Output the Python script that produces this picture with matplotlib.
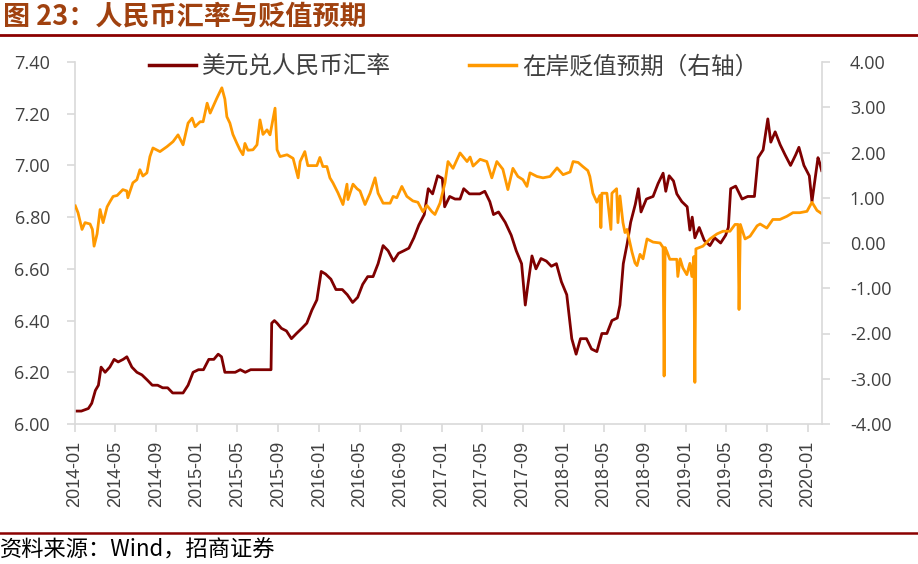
import matplotlib
matplotlib.use("Agg")
import matplotlib.pyplot as plt
import pandas as pd
from matplotlib.lines import Line2D

# ---------------- data ----------------
usdcny_dates = [
    "2014-01-02","2014-01-20","2014-02-10","2014-02-20","2014-03-03","2014-03-12","2014-03-20","2014-04-01",
    "2014-04-15","2014-04-28","2014-05-10","2014-05-25","2014-06-05","2014-06-20","2014-07-05","2014-07-20",
    "2014-08-05","2014-08-20","2014-09-05","2014-09-20","2014-10-05","2014-10-20","2014-11-05","2014-11-20",
    "2014-12-05","2014-12-20","2015-01-05","2015-01-20","2015-02-05","2015-02-20","2015-03-05","2015-03-15",
    "2015-03-25","2015-04-10","2015-04-25","2015-05-10","2015-05-25","2015-06-10","2015-06-25","2015-07-10",
    "2015-07-25","2015-08-10","2015-08-12","2015-08-20","2015-08-28","2015-09-10","2015-09-25","2015-10-10",
    "2015-10-25","2015-11-10","2015-11-25","2015-12-10","2015-12-25","2016-01-07","2016-01-20","2016-02-05",
    "2016-02-20","2016-03-10","2016-03-25","2016-04-10","2016-04-25","2016-05-10","2016-05-25","2016-06-10",
    "2016-06-25","2016-07-10","2016-07-25","2016-08-10","2016-08-25","2016-09-10","2016-09-25","2016-10-10",
    "2016-10-25","2016-11-10","2016-11-22","2016-12-05","2016-12-20","2017-01-03","2017-01-10","2017-01-25",
    "2017-02-10","2017-02-25","2017-03-08","2017-03-25","2017-04-10","2017-04-25","2017-05-10","2017-05-25",
    "2017-06-05","2017-06-20","2017-07-10","2017-07-28","2017-08-12","2017-08-28","2017-09-08","2017-09-15",
    "2017-09-28","2017-10-10","2017-10-25","2017-11-10","2017-11-25","2017-12-10","2017-12-25","2018-01-10",
    "2018-01-25","2018-02-07","2018-02-20","2018-03-10","2018-03-25","2018-04-10","2018-04-25","2018-05-10",
    "2018-05-25","2018-06-10","2018-06-18","2018-06-28","2018-07-10","2018-07-20","2018-08-03","2018-08-12",
    "2018-08-20","2018-09-05","2018-09-25","2018-10-10","2018-10-25","2018-11-02","2018-11-12","2018-11-25",
    "2018-12-05","2018-12-20","2019-01-05","2019-01-13","2019-01-20","2019-01-28","2019-02-10","2019-02-25",
    "2019-03-14","2019-03-28","2019-04-15","2019-04-30","2019-05-08","2019-05-15","2019-05-30","2019-06-18",
    "2019-07-05","2019-07-25","2019-08-05","2019-08-20","2019-09-03","2019-09-12","2019-09-25","2019-10-10",
    "2019-10-25","2019-11-10","2019-11-25","2019-12-05","2019-12-20","2020-01-05","2020-01-13","2020-01-31",
    "2020-02-05","2020-02-11",
]
usdcny_values = [
    6.05,6.05,6.06,6.08,6.13,6.15,6.22,6.20,
    6.22,6.25,6.24,6.25,6.26,6.22,6.20,6.19,
    6.17,6.15,6.15,6.14,6.14,6.12,6.12,6.12,
    6.15,6.20,6.21,6.21,6.25,6.25,6.27,6.26,
    6.20,6.20,6.20,6.21,6.20,6.21,6.21,6.21,
    6.21,6.21,6.39,6.40,6.39,6.37,6.36,6.33,
    6.35,6.37,6.39,6.44,6.48,6.59,6.58,6.56,
    6.52,6.52,6.50,6.47,6.49,6.54,6.57,6.57,
    6.62,6.69,6.67,6.63,6.66,6.67,6.68,6.72,
    6.77,6.81,6.91,6.89,6.96,6.95,6.84,6.88,
    6.87,6.87,6.91,6.89,6.89,6.89,6.90,6.86,
    6.81,6.82,6.78,6.73,6.67,6.62,6.46,6.53,
    6.65,6.60,6.64,6.63,6.61,6.62,6.55,6.50,
    6.33,6.27,6.33,6.33,6.29,6.28,6.35,6.35,
    6.40,6.41,6.46,6.62,6.70,6.78,6.85,6.91,
    6.82,6.87,6.88,6.93,6.97,6.90,6.96,6.94,
    6.89,6.86,6.84,6.75,6.80,6.72,6.76,6.71,
    6.69,6.72,6.70,6.73,6.76,6.91,6.92,6.87,
    6.88,6.88,7.03,7.06,7.18,7.09,7.13,7.08,
    7.04,7.00,7.04,7.07,7.00,6.96,6.86,7.03,
    7.01,6.98,
]

expect_dates = [
    "2014-01-02","2014-01-10","2014-01-22","2014-01-31","2014-02-15","2014-02-22","2014-02-27","2014-03-08",
    "2014-03-17","2014-03-26","2014-04-07","2014-04-16","2014-04-25","2014-05-07","2014-05-24","2014-06-05",
    "2014-06-08","2014-06-23","2014-07-05","2014-07-14","2014-07-23","2014-08-04","2014-08-13","2014-08-22",
    "2014-09-12","2014-10-03","2014-10-21","2014-11-05","2014-11-20","2014-12-05","2014-12-17","2014-12-26",
    "2015-01-10","2015-01-19","2015-01-31","2015-02-09","2015-02-17","2015-03-01","2015-03-16","2015-03-25",
    "2015-03-31","2015-04-09","2015-04-18","2015-04-30","2015-05-09","2015-05-18","2015-05-24","2015-06-02",
    "2015-06-17","2015-06-29","2015-07-08","2015-07-17","2015-07-29","2015-08-07","2015-08-22","2015-08-28",
    "2015-09-06","2015-09-27","2015-10-15","2015-10-30","2015-11-05","2015-11-19","2015-11-28","2015-12-13",
    "2015-12-25","2016-01-03","2016-01-12","2016-01-24","2016-02-02","2016-02-11","2016-02-26","2016-03-12",
    "2016-03-24","2016-03-27","2016-04-11","2016-04-23","2016-05-02","2016-05-17","2016-06-01","2016-06-16",
    "2016-06-25","2016-07-10","2016-07-31","2016-08-09","2016-08-20","2016-09-04","2016-09-19","2016-10-07",
    "2016-10-22","2016-11-06","2016-11-18","2016-12-03","2016-12-12","2016-12-27","2017-01-11","2017-01-20",
    "2017-02-04","2017-02-25","2017-03-18","2017-03-27","2017-04-05","2017-04-26","2017-05-16","2017-05-31",
    "2017-06-15","2017-07-03","2017-07-18","2017-08-02","2017-08-17","2017-09-01","2017-09-13","2017-09-22",
    "2017-10-13","2017-10-31","2017-11-21","2017-12-12","2017-12-30","2018-01-20","2018-01-29","2018-02-13",
    "2018-02-27","2018-03-14","2018-03-20","2018-03-29","2018-04-10","2018-04-19","2018-04-22","2018-04-25",
    "2018-05-10","2018-05-22","2018-05-25","2018-06-08","2018-06-12","2018-06-18","2018-06-27","2018-07-03",
    "2018-07-09","2018-07-18","2018-07-24","2018-08-02","2018-08-08","2018-08-17","2018-08-26","2018-09-07",
    "2018-09-25","2018-10-16","2018-10-25","2018-10-28","2018-10-31","2018-11-06","2018-11-14","2018-12-05",
    "2018-12-08","2018-12-15","2018-12-23","2019-01-04","2019-01-13","2019-01-19","2019-01-25","2019-01-28",
    "2019-01-31","2019-02-21","2019-03-14","2019-04-04","2019-04-22","2019-05-13","2019-05-28","2019-06-06",
    "2019-06-09","2019-06-13","2019-06-27","2019-07-12","2019-08-02","2019-08-11","2019-08-31","2019-09-18",
    "2019-10-09","2019-10-30","2019-11-17","2019-12-08","2019-12-29","2020-01-13","2020-01-28","2020-02-11",
]
expect_values = [
    0.82,0.67,0.30,0.45,0.42,0.30,-0.07,0.20,
    0.74,0.45,0.80,0.92,1.03,1.05,1.18,1.15,
    1.00,1.33,1.40,1.62,1.48,1.55,1.91,2.10,
    2.02,2.13,2.24,2.39,2.17,2.65,2.76,2.57,
    2.68,2.68,3.09,2.87,3.00,3.20,3.43,3.18,
    2.79,2.65,2.40,2.20,2.06,1.95,2.20,2.05,
    2.06,2.17,2.72,2.40,2.50,2.39,2.98,2.06,
    1.91,1.95,1.87,1.44,1.80,2.02,1.71,1.71,
    1.71,1.89,1.69,1.69,1.44,1.33,1.11,0.85,
    1.30,0.96,1.30,1.20,1.15,0.85,1.10,1.44,
    1.10,0.88,0.88,1.03,1.00,1.25,1.03,0.93,
    0.90,0.69,0.83,0.69,0.63,0.88,1.33,1.80,
    1.65,1.99,1.80,1.90,1.70,1.85,1.80,1.44,
    1.80,1.63,1.18,1.65,1.47,1.40,1.25,1.55,
    1.47,1.44,1.47,1.66,1.51,1.57,1.80,1.78,
    1.69,1.60,1.47,1.10,0.90,1.05,0.34,1.10,
    1.10,0.30,1.10,1.20,0.45,1.04,0.45,0.23,
    0.30,0.00,-0.20,-0.44,-0.50,-0.25,-0.35,0.09,
    0.02,0.00,-0.10,-2.94,-0.10,-0.20,-0.36,-0.36,
    -0.74,-0.35,-0.55,-0.70,-0.45,-0.74,-0.30,-3.08,
    -0.13,-0.07,0.09,0.20,0.26,0.26,0.41,0.41,
    -1.47,0.41,0.09,0.15,0.38,0.42,0.33,0.52,
    0.52,0.59,0.67,0.67,0.70,0.90,0.72,0.65,
]

series_names = ["美元兑人民币汇率", "在岸贬值预期（右轴）"]
left_ticks = [6.00, 6.20, 6.40, 6.60, 6.80, 7.00, 7.20, 7.40]
right_ticks = [-4.00, -3.00, -2.00, -1.00, 0.00, 1.00, 2.00, 3.00, 4.00]
x_tick_labels = ["2014-01","2014-05","2014-09","2015-01","2015-05","2015-09","2016-01","2016-05",
                 "2016-09","2017-01","2017-05","2017-09","2018-01","2018-05","2018-09","2019-01",
                 "2019-05","2019-09","2020-01"]
title_text = "图 23：人民币汇率与贬值预期"
source_text = "资料来源：Wind，招商证券"

# ---------------- style ----------------
RED = "#7F0000"
ORANGE = "#FF9900"
GRID = "#D9D9D9"
TXT = "#404040"
TITLE_C = "#A0410F"
CJK = ["Noto Sans CJK SC", "DejaVu Sans"]

W, H = 918, 564
fig = plt.figure(figsize=(W / 100, H / 100), dpi=100)
fig.patch.set_facecolor("white")

L, R, T, B = 75, 822, 62, 424
ax = fig.add_axes([L / W, 1 - B / H, (R - L) / W, (B - T) / H])
ax2 = ax.twinx()

d1 = pd.to_datetime(usdcny_dates)
d2 = pd.to_datetime(expect_dates)
ax.plot(d1, usdcny_values, color=RED, lw=2.0, solid_joinstyle="round")
ax2.plot(d2, expect_values, color=ORANGE, lw=2.0, solid_joinstyle="round")

ax.set_ylim(6.0, 7.4)
ax2.set_ylim(-4, 4)
ax.set_xlim(pd.Timestamp("2014-01-01"), pd.Timestamp("2020-02-12"))

ax.set_yticks(left_ticks)
ax.set_yticklabels([f"{v:.2f}" for v in left_ticks])
ax2.set_yticks(right_ticks)
ax2.set_yticklabels([f"{v:.2f}" for v in right_ticks])
ax.set_xticks(pd.to_datetime([s + "-01" for s in x_tick_labels]))
ax.set_xticklabels(x_tick_labels, rotation=90, fontfamily="Liberation Sans", fontsize=13, color=TXT)

for a in (ax, ax2):
    for s in a.spines.values():
        s.set_color(GRID)
        s.set_linewidth(1.2)
    a.spines["top"].set_visible(False)
ax.spines["right"].set_visible(False)
ax2.spines["left"].set_visible(False)
ax2.spines["bottom"].set_visible(False)

ax.tick_params(axis="y", direction="out", length=6, width=1.2, color=GRID, pad=12,
               labelsize=13, labelcolor=TXT)
ax2.tick_params(axis="y", direction="out", length=6, width=1.2, color=GRID, pad=14,
                labelsize=13, labelcolor=TXT)
ax.tick_params(axis="x", direction="out", length=6, width=1.2, color=GRID, pad=6)
for lab in ax.get_yticklabels() + ax2.get_yticklabels():
    lab.set_fontfamily("Open Sans")

ax2.set_zorder(ax.get_zorder() + 1)
ax2.patch.set_visible(False)

# legend
handles = [Line2D([], [], color=RED, lw=2.5), Line2D([], [], color=ORANGE, lw=2.5)]
fig.legend(handles, series_names, loc="center left", bbox_to_anchor=(149 / W, 1 - 67 / H),
           ncol=2, frameon=False, borderpad=0, borderaxespad=0, handlelength=2.0,
           handletextpad=0.25, columnspacing=3.3,
           prop={"family": CJK, "size": 17}, labelcolor=TXT)

# title, rules and source
fig.text(3 / W, 1 - 17 / H, title_text, ha="left", va="center", fontsize=19.5, fontweight="bold",
         color=TITLE_C, family=CJK)
fig.add_artist(Line2D([0, 1], [1 - 34.5 / H, 1 - 34.5 / H], color="#8B0000", lw=2.0,
                      transform=fig.transFigure))
fig.add_artist(Line2D([0, 1], [1 - 533 / H, 1 - 533 / H], color="#8B0000", lw=1.8,
                      transform=fig.transFigure))
fig.text(0 / W, 1 - 550 / H, source_text, ha="left", va="center", fontsize=16,
         color="black", family=CJK)

fig.savefig("out.png", dpi=100, facecolor="white")
